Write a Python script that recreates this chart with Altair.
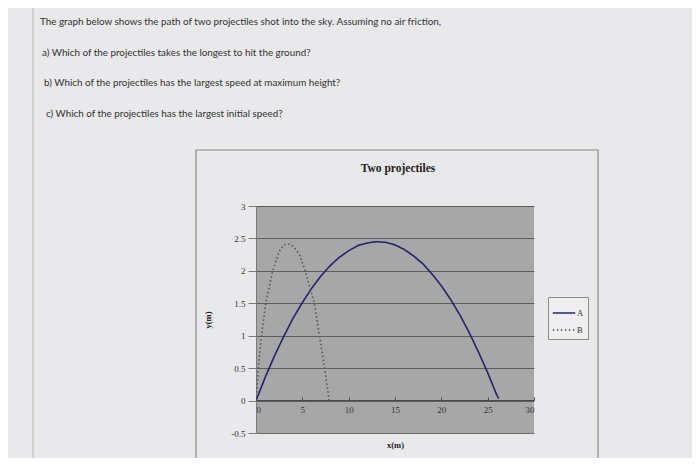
import altair as alt
import pandas as pd

# ---- data ----
a_x = [0, 1, 2, 3, 4, 5, 6, 7, 8, 9, 10, 11, 12, 13, 14, 15, 16, 17, 18, 19, 20, 21, 22, 23, 24, 25, 26, 26.2]
a_y = [0, 0.36, 0.69, 0.99, 1.27, 1.51, 1.73, 1.92, 2.08, 2.21, 2.31, 2.39, 2.43, 2.45, 2.44, 2.40, 2.33,
       2.23, 2.11, 1.95, 1.77, 1.56, 1.32, 1.05, 0.75, 0.43, 0.08, 0.03]
b_x = [0, 0.25, 0.6, 1.05, 1.8, 2.5, 3.0, 3.45, 4.0, 4.7, 5.3, 5.8, 6.3, 6.85, 7.4, 7.9]
b_y = [0, 0.5, 1.0, 1.5, 2.0, 2.3, 2.4, 2.42, 2.38, 2.25, 2.0, 1.75, 1.5, 1.0, 0.5, 0.0]

x_ticks = [0, 5, 10, 15, 20, 25, 30]
y_ticks = [-0.5, 0, 0.5, 1, 1.5, 2, 2.5, 3]

question_lines = [
    "The graph below shows the path of two projectiles shot into the sky. Assuming no air friction,",
    "a) Which of the projectiles takes the longest to hit the ground?",
    "b) Which of the projectiles has the largest speed at maximum height?",
    "c) Which of the projectiles has the largest initial speed?",
]
chart_title = "Two projectiles"
series_names = ["A", "B"]

df = pd.concat([
    pd.DataFrame({"x": a_x, "y": a_y, "s": "A"}),
    pd.DataFrame({"x": b_x, "y": b_y, "s": "B"}),
])

W, H = 278, 227
PX, PY = 256, 206  # plot origin on page

xs = alt.Scale(domain=[0, 30], nice=False)
ys = alt.Scale(domain=[-0.5, 3], nice=False)

serif = "Liberation Serif"

legend_common = dict(title=None, orient="none", legendX=W + 14, legendY=91,
                     symbolType="M-1,0H1", symbolSize=500, symbolStrokeWidth=1.6,
                     labelFont=serif, labelFontSize=8.5, labelColor="#333",
                     fillColor="#eeedf0", strokeColor="#8a8a8a", padding=4,
                     rowPadding=0, labelOffset=1)

lines = alt.Chart(df).mark_line(clip=True).encode(
    x=alt.X("x:Q", scale=xs, axis=alt.Axis(
        values=x_ticks, title="x(m)", offset=-32, grid=False, domain=False, ticks=False,
        labelFont=serif, labelFontSize=9, labelColor="#333", labelPadding=4,
        titleFont=serif, titleFontSize=8.5, titleFontWeight="bold", titleColor="#222",
        titlePadding=26)),
    y=alt.Y("y:Q", scale=ys, axis=alt.Axis(
        values=y_ticks, title="y(m)", grid=True, gridColor="#4a4a4a", gridWidth=0.8,
        labelOverlap=False, labelExpr="'' + datum.value",
        domainColor="#7a7a7a", tickColor="#7a7a7a", tickSize=8, labelPadding=3,
        labelFont=serif, labelFontSize=9, labelColor="#333",
        titleFont=serif, titleFontSize=8.5, titleFontWeight="bold", titleColor="#222",
        titlePadding=18)),
    color=alt.Color("s:N", scale=alt.Scale(domain=series_names, range=["#24226e", "#555555"]),
                    legend=alt.Legend(**legend_common)),
    strokeDash=alt.StrokeDash("s:N", scale=alt.Scale(domain=series_names, range=[[1, 0], [1.5, 2.5]]),
                              legend=alt.Legend(**legend_common)),
    strokeWidth=alt.value(1.6),
)

# x axis line at y=0 with upward ticks
zero_axis = alt.Chart(df).mark_point(opacity=0).encode(
    x=alt.X("x:Q", scale=xs, axis=alt.Axis(
        orient="top", values=x_ticks, offset=-(H - 33), labels=False, title=None,
        domainColor="#4a4a4a", tickColor="#4a4a4a", tickSize=3, grid=False)),
)

one = pd.DataFrame({"k": [0]})

frame = alt.Chart(one).mark_rect(fill=None, stroke="#8c8c8c", strokeWidth=1.2, clip=False).encode(
    x=alt.value(196 - PX), x2=alt.value(598 - PX), y=alt.value(150 - PY), y2=alt.value(462 - PY))

page_edge = alt.Chart(one).mark_rule(color="#b8b8b8", strokeWidth=1, clip=False).encode(
    x=alt.value(33 - PX), y=alt.value(-PY - 8), y2=alt.value(460 - PY))

title_mark = alt.Chart(pd.DataFrame({"t": [chart_title]})).mark_text(
    font=serif, fontSize=11.5, fontWeight="bold", color="#222", align="center", clip=False
).encode(x=alt.value(398 - PX), y=alt.value(169 - PY), text="t:N")

text_layers = []
pos = [(40, 22), (42, 53), (44, 83), (46, 114)]
for line, (tx, ty) in zip(question_lines, pos):
    text_layers.append(
        alt.Chart(pd.DataFrame({"t": [line]})).mark_text(
            font="Lato", fontSize=9.85, color="#333333", align="left", baseline="middle", clip=False
        ).encode(x=alt.value(tx - PX), y=alt.value(ty - PY), text="t:N")
    )

chart = alt.layer(frame, page_edge, title_mark, *text_layers, zero_axis, lines).resolve_axis(
    x="independent"
).properties(
    width=W, height=H,
    autosize=alt.AutoSizeParams(type="none"),
    padding={"left": PX - 8, "top": PY - 8, "right": 684 - (PX - 8) - W, "bottom": 450 - (PY - 8) - H},
    background="#e9e8eb",
).configure_view(fill="#a7a7a7", stroke=None)

chart.save("out.html", embed_options={"renderer": "svg", "actions": False})
